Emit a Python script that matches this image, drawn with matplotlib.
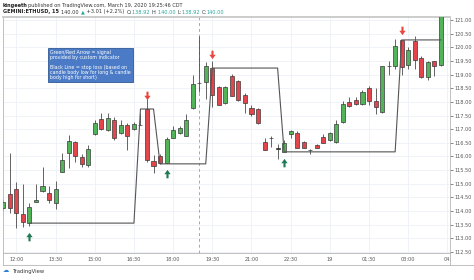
import numpy as np
import matplotlib.pyplot as plt
from matplotlib.path import Path
from matplotlib.offsetbox import TextArea, HPacker, AnchoredOffsetbox

# 15 min candles, GEMINI:ETHUSD, from 11:30 (Mar 18) to 04:15 (Mar 19)
opens = [114.11, 114.63, 114.80, 113.90, 113.56, 114.33, 114.74, 114.66, 114.29, 115.43,
         116.13, 116.53, 115.98, 115.69, 116.82, 117.37, 116.97, 117.34, 116.86, 117.15,
         117.00, 117.15, 117.74, 115.84, 116.02, 115.76, 116.68, 116.86, 116.75, 117.78,
         118.69, 118.73, 119.24, 118.55, 117.96, 118.95, 118.77, 118.25, 117.78, 117.74,
         116.53, 116.68, 116.28, 116.17, 116.82, 116.86, 116.53, 116.24, 116.42, 116.71,
         116.60, 116.53, 117.26, 118.00, 118.07, 117.92, 118.51, 118.03, 117.63, 119.31,
         119.31, 120.27, 119.35, 120.23, 119.60, 118.90, 119.50, 119.35]
highs = [114.45, 116.13, 115.07, 115.00, 114.30, 115.00, 115.60, 114.92, 115.10, 116.13,
         116.79, 116.55, 116.10, 116.42, 117.35, 117.60, 117.60, 117.45, 117.34, 117.22,
         117.28, 117.60, 118.10, 116.05, 116.10, 116.72, 117.10, 117.10, 117.56, 119.00,
         120.40, 119.45, 119.50, 118.60, 118.60, 119.03, 118.80, 118.31, 117.90, 117.78,
         116.67, 116.76, 116.46, 116.62, 116.96, 116.92, 116.55, 116.29, 116.44, 116.81,
         116.88, 117.33, 118.04, 118.19, 118.19, 118.42, 118.57, 118.50, 119.31, 119.50,
         120.30, 120.27, 120.00, 120.40, 119.68, 119.50, 119.50, 121.20]
lows = [114.00, 113.93, 113.38, 113.40, 113.45, 114.33, 114.70, 114.30, 114.06, 115.43,
        115.58, 115.80, 115.60, 115.63, 116.78, 116.97, 116.93, 116.60, 116.84, 116.24,
        116.97, 117.15, 115.80, 115.40, 115.74, 115.76, 116.66, 116.84, 116.75, 117.75,
        118.35, 118.10, 117.80, 117.87, 117.94, 118.20, 118.04, 117.60, 117.48, 117.20,
        116.22, 116.36, 115.90, 116.17, 116.68, 116.31, 116.30, 116.10, 116.30, 116.48,
        116.58, 116.51, 117.24, 117.82, 117.87, 117.90, 117.90, 117.55, 117.60, 119.00,
        119.20, 119.00, 119.22, 119.20, 118.88, 118.80, 118.95, 119.30]
closes = [114.33, 114.11, 113.93, 113.60, 114.15, 114.40, 114.92, 114.40, 114.81, 115.87,
          116.57, 116.00, 115.73, 116.27, 117.23, 117.00, 117.41, 116.68, 117.15, 116.74,
          117.19, 117.15, 115.87, 115.65, 115.76, 116.64, 116.97, 117.04, 117.34, 118.66,
          118.69, 119.31, 118.25, 117.89, 118.55, 118.22, 118.07, 117.96, 117.56, 117.23,
          116.24, 116.68, 116.28, 116.50, 116.93, 116.31, 116.31, 116.24, 116.31, 116.50,
          116.86, 117.19, 117.92, 117.85, 117.92, 118.36, 118.03, 117.81, 119.31, 119.31,
          120.05, 119.28, 119.90, 119.53, 118.90, 119.46, 119.31, 121.20]

nan = np.nan
stop_loss = [nan, nan, nan, nan,
             113.56, 113.56, 113.56, 113.56, 113.56, 113.56, 113.56, 113.56, 113.56, 113.56,
             113.56, 113.56, 113.56, 113.56, 113.56, 113.56, 113.56,
             117.74, 117.74, 117.74,
             115.73, 115.73, 115.73, 115.73, 115.73, 115.73, 115.73, 115.73,
             119.24, 119.24, 119.24, 119.24, 119.24, 119.24, 119.24, 119.24, 119.24, 119.24,
             119.24,
             116.17, 116.17, 116.17, 116.17, 116.17, 116.17, 116.17, 116.17, 116.17, 116.17,
             116.17, 116.17, 116.17, 116.17, 116.17, 116.17, 116.17, 116.17,
             120.27, 120.27, 120.27, 120.27, 120.27, 120.27, 120.27]

buy_idx = [4, 25, 43]
buy_y = [113.10, 115.40, 115.80]
sell_idx = [22, 32, 61]
sell_y = [118.20, 119.70, 120.60]

time_ticks = [2, 8, 14, 20, 26, 32, 38, 44, 50, 56, 62, 68]
time_labels = ['12:00', '13:30', '15:00', '16:30', '18:00', '19:30', '21:00',
               '22:30', '19', '01:30', '03:00', '04:']
price_ticks = [112.5, 113.0, 113.5, 114.0, 114.5, 115.0, 115.5, 116.0, 116.5,
               117.0, 117.5, 118.0, 118.5, 119.0, 119.5, 120.0, 120.5, 121.0]

GREEN = '#53b358'
RED = '#e2454b'
EDGE = '#3a3a3a'


def arrow_marker(up):
    v = [(-0.22, -1.0), (0.22, -1.0), (0.22, -0.15), (0.65, -0.15), (0.0, 0.75),
         (-0.65, -0.15), (-0.22, -0.15), (-0.22, -1.0)]
    if not up:
        v = [(x, -y) for x, y in v]
    return Path(v, [Path.MOVETO] + [Path.LINETO] * 6 + [Path.CLOSEPOLY])


def header_line(parts, y):
    boxes = [TextArea(t, textprops=dict(fontsize=3.6, color=col, fontweight=w))
             for t, col, w in parts]
    pack = HPacker(children=boxes, pad=0, sep=0.3, align='baseline')
    return AnchoredOffsetbox(loc='center left', child=pack, pad=0, frameon=False,
                             bbox_to_anchor=(3 / 474, 1 - y / 280),
                             bbox_transform=plt.gcf().transFigure, borderpad=0)


def plot_chart():
    fig = plt.figure(figsize=(4.74, 2.80), dpi=100)
    ax = fig.add_axes([3 / 474, 1 - 253 / 280, 447 / 474, 236 / 280])

    idx = np.arange(len(opens))
    o = np.array(opens)
    c = np.array(closes)
    cols = [GREEN if cc > oo else (RED if cc < oo else 'black') for oo, cc in zip(o, c)]

    ax.vlines(idx, lows, highs, color='#4a4a4a', lw=0.6, zorder=2)
    body_lo = np.minimum(o, c)
    body_h = np.maximum(np.abs(c - o), 0.015)
    ax.bar(idx, body_h, bottom=body_lo, width=0.62, color=cols,
           edgecolor=EDGE, linewidth=0.5, zorder=3)

    ax.plot(idx, stop_loss, color='#555555', lw=0.8, zorder=4)

    ax.scatter(buy_idx, buy_y, marker=arrow_marker(True), s=48, color='#1f7a55',
               linewidths=0, zorder=5)
    ax.scatter(sell_idx, sell_y, marker=arrow_marker(False), s=48, color='#e8473d',
               linewidths=0, zorder=5)

    # crosshair
    ax.axvline(30, color='#7fb0e0', lw=0.7, ls=(0, (3, 3)), zorder=1)

    ax.set_xlim(-0.05, 68.4)
    ax.set_ylim(112.465, 121.11)
    ax.set_xticks(time_ticks)
    ax.set_xticklabels(time_labels)
    ax.set_yticks(price_ticks)
    ax.set_yticklabels(['%.2f' % p for p in price_ticks])
    ax.yaxis.tick_right()
    ax.tick_params(axis='y', labelsize=3.6, length=2, width=0.5, pad=1, colors='#555555')
    ax.tick_params(axis='x', labelsize=3.6, length=0, pad=3.2, colors='#555555')
    ax.grid(True, color='#edf0f5', lw=0.6)
    ax.set_axisbelow(True)
    for side in ['left', 'right', 'bottom']:
        ax.spines[side].set_color('#b5b5b5')
        ax.spines[side].set_linewidth(0.6)
    ax.spines['top'].set_color('#c8c8c8')
    ax.spines['top'].set_linewidth(1.3)

    # outer frame of time axis
    fig.add_artist(plt.Line2D([3 / 474, 1], [1 - 265 / 280] * 2, color='#b5b5b5', lw=0.6))
    fig.add_artist(plt.Line2D([450 / 474] * 2, [1 - 265 / 280, 1 - 253 / 280],
                              color='#b5b5b5', lw=0.6))
    fig.add_artist(plt.Line2D([3 / 474] * 2, [1 - 265 / 280, 1 - 253 / 280],
                              color='#b5b5b5', lw=0.6))

    # note box
    note = ('Green/Red Arrow = signal\nprovided by custom indicator\n\n'
            'Black Line = stop loss (based on\ncandle body low for long & candle\n'
            'body high for short)')
    fig.text(50 / 474, 1 - 50 / 280, note, ha='left', va='top', fontsize=3.4,
             color='white', linespacing=1.0,
             bbox=dict(boxstyle='square,pad=0.45', fc='#4b7bc6', ec='#2f5895', lw=0.6))

    # header
    teal = '#26a69a'
    line1 = [('kingeeth', '#222222', 'bold'),
             ('published on TradingView.com, March 19, 2020 19:25:46 CDT', '#333333', 'normal')]
    line2 = [('GEMINI:ETHUSD, 15 ', '#222222', 'bold'), ('140.00 ', '#333333', 'normal'),
             ('\u25b2', teal, 'normal'), (' +3.01 (+2.2%) ', '#333333', 'normal'),
             ('O:', '#333333', 'normal'), ('138.92 ', teal, 'normal'),
             ('H:', '#333333', 'normal'), ('140.00 ', teal, 'normal'),
             ('L:', '#333333', 'normal'), ('138.92 ', teal, 'normal'),
             ('C:', '#333333', 'normal'), ('140.00', teal, 'normal')]
    fig.add_artist(header_line(line1, 5))
    fig.add_artist(header_line(line2, 12))

    # footer logo
    fig.text(3 / 474, 1 - 271 / 280, '\u2601', fontsize=4.5, color='#2f7fd9', va='center')
    fig.text(13 / 474, 1 - 272 / 280, 'TradingView', fontsize=3.8, color='#333333',
             va='center')

    plt.savefig('out.png', dpi=100)
    plt.close()


if __name__ == '__main__':
    plot_chart()
